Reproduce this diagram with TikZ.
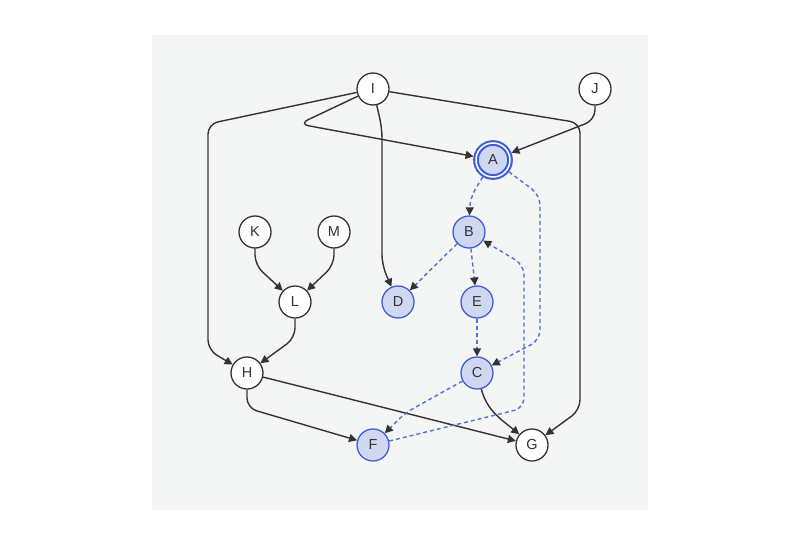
\documentclass[tikz,border=0pt]{standalone}
\usepackage{fontspec}
\setmainfont{Liberation Sans}
\usetikzlibrary{arrows.meta, automata, positioning}
\definecolor{canvas}{HTML}{F3F6F5}
\definecolor{ink}{HTML}{333333}
\definecolor{hopblue}{HTML}{5670D4}
\definecolor{ringblue}{HTML}{3F5DDB}
\definecolor{markfill}{HTML}{D0D8F1}
\tikzset{
  every state/.style={draw=ink, fill=white, line width=1.3pt, minimum size=32pt, inner sep=0pt, text=ink, font=\fontsize{14.5}{16}\selectfont},
  marked/.style={draw=ringblue, fill=markfill},
  accepting/.style={double=white, double distance=1.5pt, line width=2.1pt, draw=ringblue, minimum size=34pt, outer sep=2.8pt},
  flow/.style={->, draw=ink, line width=1.4pt, rounded corners=10pt},
  hop/.style={->, draw=hopblue, line width=1.4pt, dash pattern=on 4pt off 3pt, rounded corners=10pt}
}

\begin{document}
\begin{tikzpicture}[x=1pt, y=-1pt, on grid, >={Triangle[length=8pt,width=8pt,color=ink]}]
			\useasboundingbox (0,0) rectangle (800,546);
			\fill[canvas] (152,35) rectangle (648,510);

			\node[state] (I) at (373,89) {I};
			\node[state] (J) [right=222pt of I] {J};
			\node[state,marked,accepting] (A) at (493,160) {A};
			\node[state] (K) at (255,232) {K};
			\node[state] (M) [right=79pt of K] {M};
			\node[state,marked] (B) at (469,232) {B};
			\node[state] (L) at (295,302) {L};
			\node[state,marked] (D) at (398,302) {D};
			\node[state,marked] (E) at (477,302) {E};
			\node[state] (H) at (247,373) {H};
			\node[state,marked] (C) [below=71pt of E] {C};
			\node[state,marked] (F) at (373,445) {F};
			\node[state] (G) [right=159pt of F] {G};

			% solid links
			\draw[flow] (I) -- (299,124) -- (A);
			\draw[flow] (I) -- (208,124) -- (208,350) -- (H);
			\draw[flow] (I) -- (382,128) -- (382,265) -- (D);
			\draw[flow] (I) -- (580,123) -- (580,410) -- (G);
			\draw[flow] (J) -- (595,120) -- (A);
			\draw[flow] (K) -- (255,265) -- (L);
			\draw[flow] (M) -- (334,265) -- (L);
			\draw[flow] (L) -- (295,338) -- (H);
			\draw[flow] (H) -- (247,408) -- (F);
			\draw[flow] (H) -- (G);
			\draw[flow] (C) to[out=-75,in=140] (G);

			% dashed links
			\draw[hop] (A) -- (470,198) -- (B);
			\draw[hop] (A) -- (540,195) -- (540,340) -- (C);
			\draw[hop] (B) -- (D);
			\draw[hop] (B) -- (E);
			\draw[hop] (E) -- (C);
			\draw[hop] (C) -- (405,413) -- (F);
			\draw[hop] (F) -- (524,408) -- (524,265) -- (B);
		\end{tikzpicture}
\end{document}
